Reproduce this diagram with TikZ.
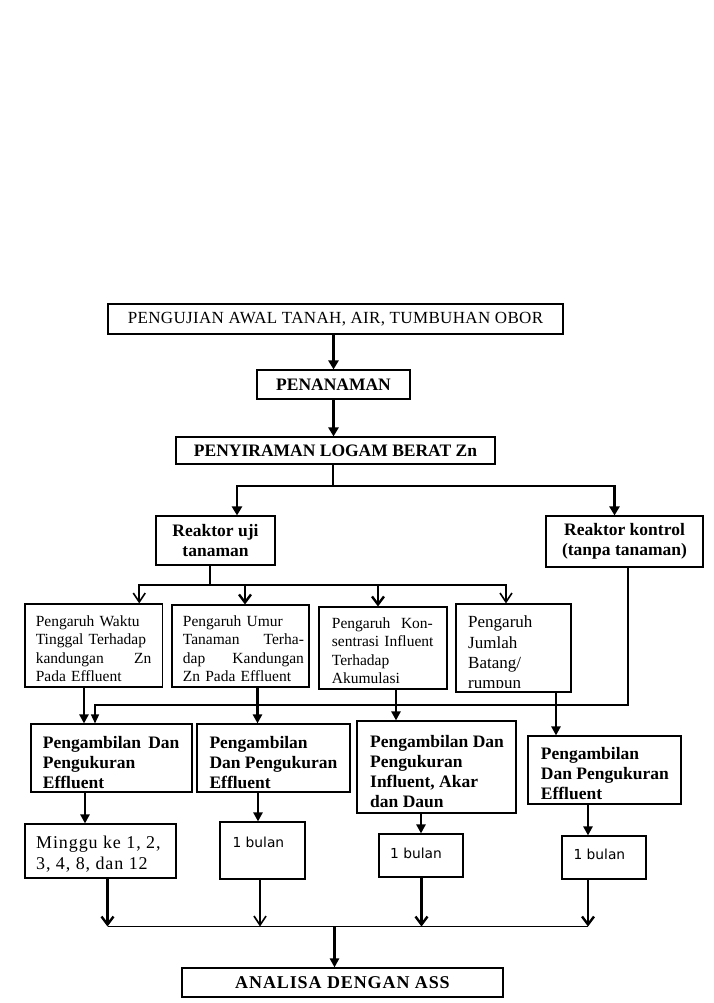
\documentclass[tikz,border=0pt]{standalone}
\usepackage{fontspec}
\setmainfont{Liberation Serif}
\newfontfamily\sansf{DejaVu Sans}
\usetikzlibrary{arrows.meta}
\newcommand\fhead{\fontsize{17.5}{20}\selectfont\bfseries}
\newcommand\fbig{\fontsize{18}{20}\selectfont\bfseries\addfontfeatures{LetterSpace=5}}
\newcommand\ftopline{\fontsize{17}{20}\selectfont\addfontfeatures{LetterSpace=2}}
\newcommand\fpa{\fontsize{15.5}{18.3}\selectfont}
\newcommand\fpd{\fontsize{17}{20.3}\selectfont}
\newcommand\fmin{\fontsize{18}{20.8}\selectfont\addfontfeatures{LetterSpace=5}}
\newcommand\fbul{\sansf\fontsize{13.8}{16}\selectfont}
\begin{document}
\begin{tikzpicture}[x=1pt,y=-1pt,
  box/.style={draw, line width=1.1pt, inner sep=0pt, align=center},
  txt/.style={anchor=north west, inner sep=0pt, align=left},
  ln/.style={line width=1.3pt},
  farr/.style={line width=2.5pt, -{Triangle[length=9pt,width=10pt]}},
  sarr/.style={line width=2.4pt, -{Triangle[length=9pt,width=9pt]}},
  tarr/.style={line width=1.5pt, -{Triangle[length=9pt,width=8pt]}},
  varr/.style={line width=2.4pt, -{Straight Barb[length=8pt,width=12pt]}},
  tvarr/.style={line width=1.6pt, -{Straight Barb[length=9pt,width=12pt]}}
]
\useasboundingbox (0,0) rectangle (713,1003);

% --- top chain
\node[box, minimum width=455pt, minimum height=30pt, font=\ftopline] (n1) at (335.5,319) {PENGUJIAN AWAL TANAH, AIR, TUMBUHAN OBOR};
\node[box, minimum width=153pt, minimum height=29pt, font=\fhead] (n2) at (333.5,384.5) {PENANAMAN};
\node[box, minimum width=319pt, minimum height=27pt, font=\fhead] (n3) at (335.5,450.5) {PENYIRAMAN LOGAM BERAT Zn};
\node[box, minimum width=119pt, minimum height=49pt, font=\fhead] (ru) at (215.5,540.5) {Reaktor uji\\tanaman};
\node[box, minimum width=157pt, minimum height=51pt, font=\fhead] (rk) at (624.5,541.5) {Reaktor kontrol\\(tanpa tanaman)};

% --- influence boxes
\node[box, minimum width=137.5pt, minimum height=83pt] (A) at (93.75,645.5) {};
\node[box, minimum width=137pt, minimum height=82pt] (B) at (240.5,646) {};
\node[box, minimum width=128pt, minimum height=82pt] (C) at (383,648) {};
\node[box, minimum width=115pt, minimum height=88pt] (D) at (513.5,648) {};
\node[txt, text width=115.5pt, font=\fpa] (At) at (35.6,615.5) {\mbox{Pengaruh Waktu}\\\mbox{Tinggal Terhadap}\\kandungan\hfill Zn\\\mbox{Pada Effluent}};
\node[txt, text width=121pt, font=\fpa] (Bt) at (182.7,615.5) {\mbox{Pengaruh Umur}\\Tanaman\hfill Terha-\\dap\hfill Kandungan\\\mbox{Zn Pada Effluent}};
\node[txt, text width=101pt, font=\fpa] (Ct) at (331.7,617.5) {Pengaruh\hfill Kon-\\\mbox{sentrasi Influent}\\Terhadap\\Akumulasi};
\begin{scope}
\clip (455,600) rectangle (572,687.5);
\node[txt, font=\fpd] (Dt) at (468,615.7) {Pengaruh\\Jumlah\\Batang/\\rumpun};
\end{scope}

% --- sampling boxes
\node[box, minimum width=161pt, minimum height=68pt] (E) at (111.5,758) {};
\node[box, minimum width=153pt, minimum height=68pt] (F) at (273.5,758) {};
\node[box, minimum width=159pt, minimum height=92pt] (G) at (436.5,767) {};
\node[box, minimum width=153pt, minimum height=68pt] (H) at (604.5,770) {};
\node[txt, text width=136.5pt, font=\fhead] (Et) at (42.7,735.7) {Pengambilan\hfill Dan\\Pengukuran\\Effluent};
\node[txt, font=\fhead] (Ft) at (209.3,735.7) {Pengambilan\\Dan Pengukuran\\Effluent};
\node[txt, font=\fhead] (Gt) at (370,735) {Pengambilan Dan\\Pengukuran\\Influent, Akar\\dan Daun};
\node[txt, font=\fhead] (Ht) at (540.7,746.7) {Pengambilan\\Dan Pengukuran\\Effluent};

% --- duration boxes
\node[box, minimum width=151pt, minimum height=54pt] (I) at (100.5,851) {};
\node[box, minimum width=85pt, minimum height=57pt] (J) at (262.5,850.5) {};
\node[box, minimum width=84pt, minimum height=43pt] (K) at (421,855.5) {};
\node[box, minimum width=84pt, minimum height=43pt] (L) at (604,857.5) {};
\node[txt, font=\fmin] (It) at (36,835.7) {Minggu ke 1, 2,\\3, 4, 8, dan 12};
\node[txt, font=\fbul] (Jt) at (232.3,836.7) {1 bulan};
\node[txt, font=\fbul] (Kt) at (390,847.7) {1 bulan};
\node[txt, font=\fbul] (Lt) at (573.3,849) {1 bulan};

% --- final box
\node[box, minimum width=321pt, minimum height=29pt, font=\fbig] (Z) at (342.5,982.5) {ANALISA DENGAN ASS};

% --- connectors
\coordinate (sp1) at (333,486);
\coordinate (sp2) at (210,585);
\coordinate (rt) at (628,705);
\coordinate (jn) at (334.5,926.5);

\draw[farr] (n2.north |- n1.south) -- (n2.north);
\draw[farr] (n2.south) -- (n2.south |- n3.north);
\draw[ln] ([xshift=-2.5pt]n3.south) -- (sp1);
\draw[farr] (sp1) -| ([xshift=21.5pt]ru.north);
\draw[farr] (sp1) -| ([xshift=-10pt]rk.north);

\draw[ln] ([xshift=-5.5pt]ru.south) -- (sp2);
\draw[tvarr] (sp2) -| ([xshift=45.5pt]A.north);
\draw[varr] (sp2) -| ([xshift=4.5pt]B.north);
\draw[varr] (sp2) -| ([xshift=-5pt]C.north);
\draw[tvarr] (sp2) -| ([xshift=-7.5pt]D.north);

\draw[tarr] ([xshift=3.5pt]rk.south) -- (rt) -| ([xshift=-16.5pt]E.north);

\draw[sarr] ([xshift=-9.75pt]A.south) -- ([xshift=-9.75pt]A.south |- E.north);
\draw[sarr] ([xshift=17pt]B.south) -- ([xshift=17pt]B.south |- F.north);
\draw[sarr] ([xshift=13pt]C.south) -- ([xshift=13pt]C.south |- G.north);
\draw[sarr] ([xshift=42.5pt]D.south) -- ([xshift=42.5pt]D.south |- H.north);

\draw[sarr] ([xshift=-26.5pt]E.south) -- ([xshift=-26.5pt]E.south |- I.north);
\draw[sarr] ([xshift=-15.5pt]F.south) -- ([xshift=-15.5pt]F.south |- J.north);
\draw[sarr] ([xshift=-15.5pt]G.south) -- ([xshift=-15.5pt]G.south |- K.north);
\draw[sarr] ([xshift=-16.5pt]H.south) -- ([xshift=-16.5pt]H.south |- L.north);

\draw[varr] ([xshift=7pt]I.south) -- ([xshift=7pt]I.south |- jn);
\draw[tvarr] ([xshift=-2.5pt]J.south) -- ([xshift=-2.5pt]J.south |- jn);
\draw[varr] ([xshift=0.5pt]K.south) -- ([xshift=0.5pt]K.south |- jn);
\draw[varr] ([xshift=-16pt]L.south) -- ([xshift=-16pt]L.south |- jn);
\draw[ln] ([xshift=7pt]I.south |- jn) -- ([xshift=-16pt]L.south |- jn);
\draw[sarr] (jn) -- (jn |- Z.north);
\end{tikzpicture}
\end{document}
